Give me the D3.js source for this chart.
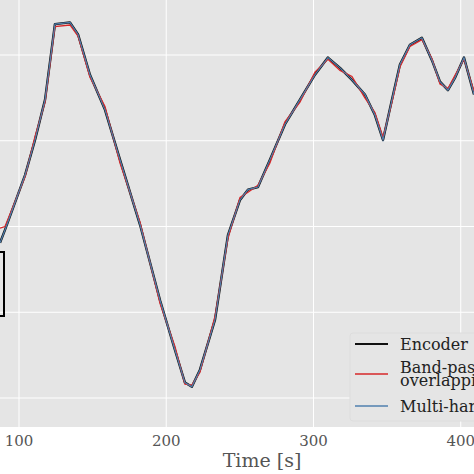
<!DOCTYPE html><html><head><script src="https://cdn.jsdelivr.net/npm/d3@7"></script>
<style>body{margin:0;background:#fff}</style></head><body><svg id="c" width="474" height="474"></svg><script>
const time=[87.1,90.5,104.1,110.9,117.7,124.4,134.6,140.1,148.2,158.4,168.6,182.2,195.8,205.9,212.7,217.4,222.9,233.1,241.9,250.1,255.5,262.3,270.4,280.6,290.8,301.0,309.8,318.0,326.1,334.9,341.7,347.2,353.3,358.7,365.5,373.6,380.4,385.9,391.3,396.0,402.2,409.0];
const encoder=[1.81,1.96,2.60,3.01,3.48,4.36,4.38,4.24,3.77,3.36,2.78,2.02,1.14,0.56,0.18,0.13,0.33,0.91,1.90,2.31,2.43,2.46,2.78,3.19,3.48,3.77,3.97,3.85,3.71,3.54,3.30,3.01,3.48,3.89,4.12,4.20,3.94,3.69,3.59,3.73,3.97,3.54];
const bandpass=[1.98,2.00,2.58,3.05,3.45,4.33,4.35,4.22,3.74,3.40,2.74,2.05,1.10,0.60,0.16,0.15,0.30,0.95,1.86,2.34,2.40,2.48,2.74,3.22,3.45,3.80,3.95,3.82,3.75,3.50,3.33,3.04,3.45,3.86,4.10,4.18,3.96,3.66,3.61,3.76,3.95,3.58];
const multiharm=encoder.map(v=>v);
const xTicks=[100,200,300,400];
const yGrid=[0,1,2,3,4];
const labels=["Encoder","Band-pass","overlapping","Multi-harmonic"];

const W=474,H=427;
const svg=d3.select("#c");
const x=d3.scaleLinear().domain([87.1,409.0]).range([0,474]);
const y=d3.scaleLinear().domain([0,4]).range([398,55]);
svg.append("rect").attr("width",W).attr("height",H).attr("fill","#e5e5e5");
svg.append("g").selectAll("line").data(xTicks).join("line").attr("x1",d=>x(d)).attr("x2",d=>x(d)).attr("y1",0).attr("y2",H).attr("stroke","#fff").attr("stroke-width",1);
svg.append("g").selectAll("line").data(yGrid).join("line").attr("y1",d=>y(d)).attr("y2",d=>y(d)).attr("x1",0).attr("x2",W).attr("stroke","#fff").attr("stroke-width",1);
const line=d3.line().x((d,i)=>x(time[i])).y(d=>y(d));
svg.append("path").attr("d",line(encoder)).attr("fill","none").attr("stroke","#111").attr("stroke-width",2.4).attr("stroke-linejoin","round");
svg.append("path").attr("d",line(bandpass)).attr("fill","none").attr("stroke","#d62728").attr("stroke-width",1.3);
svg.append("path").attr("d",line(multiharm)).attr("fill","none").attr("stroke","#4f7fae").attr("stroke-width",1.2);
svg.append("rect").attr("x",-2).attr("y",252).attr("width",6).attr("height",64).attr("fill","none").attr("stroke","#000").attr("stroke-width",2);
const ax=svg.append("g");
ax.selectAll("text").data(xTicks).join("text").attr("x",d=>x(d)).attr("y",446).attr("text-anchor","middle").attr("font-family","DejaVu Serif").attr("font-size",15).attr("fill","#555").text(d=>d);
svg.append("text").attr("x",262).attr("y",467).attr("text-anchor","middle").attr("font-family","DejaVu Serif").attr("font-size",19).attr("fill","#555").text("Time [s]");
const lg=svg.append("g");
lg.append("rect").attr("x",350).attr("y",333).attr("width",140).attr("height",88).attr("fill","#e5e5e5").attr("stroke","#ddd").attr("rx",3);
const ent=[{c:"#111",w:2.2,y:344,t:[labels[0]]},{c:"#d62728",w:1.3,y:374,t:[labels[1],labels[2]]},{c:"#4f7fae",w:1.3,y:406,t:[labels[3]]}];
ent.forEach(e=>{
 lg.append("line").attr("x1",355).attr("x2",388).attr("y1",e.y).attr("y2",e.y).attr("stroke",e.c).attr("stroke-width",e.w);
 e.t.forEach((s,i)=>lg.append("text").attr("x",400).attr("y",e.y+6+(e.t.length>1?(i*13-7):0)).attr("font-family","DejaVu Serif").attr("font-size",16).attr("fill","#222").text(s));
});
</script></body></html>
